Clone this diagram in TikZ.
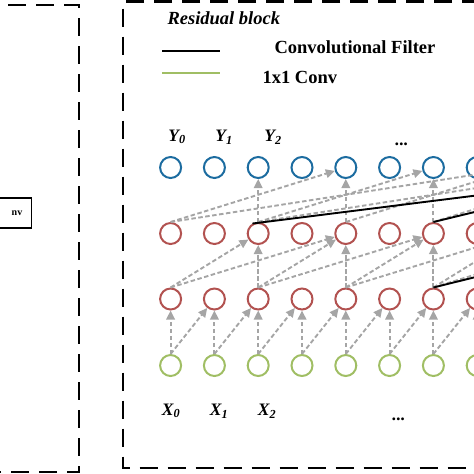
\documentclass[tikz,border=0pt]{standalone}
\usepackage{fontspec}
\setmainfont{Liberation Serif}
\usetikzlibrary{arrows.meta}
\definecolor{outblue}{RGB}{28,108,160}
\definecolor{hidred}{RGB}{178,82,80}
\definecolor{ingreen}{RGB}{160,190,100}
\definecolor{lnkgray}{RGB}{165,165,165}

\begin{document}
\begin{tikzpicture}[x=1pt,y=-1pt,
  every node/.style={font=\bfseries\fontsize{18.5}{20}\selectfont},
  unit/.style={circle,draw,line width=2pt,minimum size=21pt,inner sep=0pt},
  link/.style={draw=lnkgray,line width=1.9pt,dash pattern=on 4.5pt off 2.5pt,
    -{Triangle[length=9pt,width=8.5pt,fill=lnkgray]}},
  filt/.style={line width=1.9pt,black},
  frame/.style={line width=2.2pt,dash pattern=on 18pt off 10pt},
  lbl/.style={font=\bfseries\itshape\fontsize{17.5}{19}\selectfont}]
  \useasboundingbox (0,0) rectangle (474,474);
  \clip (0,0) rectangle (474,474);
  % 左侧框
  \draw[frame] (-20,5) -- (79,5) -- (79,472) -- (-20,472);
  \node[draw,line width=1.4pt,anchor=east,minimum height=30pt,text width=40pt,
    align=right,inner xsep=9pt,font=\bfseries\fontsize{10}{12}\selectfont] (conv) at (32,213) {nv};
  % 右侧框
  \draw[frame] (620,1.5) -- (123,1.5) -- (123,468) -- (620,468);
  % 图例
  \node[anchor=base west,font=\bfseries\itshape\fontsize{18.5}{20}\selectfont] (title) at (164,24) {Residual block};
  \coordinate (keyA1) at (162,51);
  \coordinate (keyA2) at (220,51);
  \draw[filt] (keyA1) -- (keyA2);
  \node[anchor=base west] (keyAtxt) at (271,53) {Convolutional Filter};
  \coordinate (keyB1) at (162,73);
  \coordinate (keyB2) at (220,73);
  \draw[ingreen,line width=1.2pt] (keyB1) -- (keyB2);
  \node[anchor=base west] (keyBtxt) at (259,83) {1x1 Conv};
  % 各层单元
  \foreach \i in {0,...,11}{
    \node[unit,draw=outblue] (out\i) at ({170.6+43.8*\i},167.5) {};
    \node[unit,draw=hidred] (hidA\i) at ({170.6+43.8*\i},233.5) {};
    \node[unit,draw=hidred] (hidB\i) at ({170.6+43.8*\i},299) {};
    \node[unit,draw=ingreen] (in\i) at ({170.6+43.8*\i},365.5) {};
  }
  % 标签
  \node[lbl] (y0) at (177,137) {Y\textsubscript{0}};
  \node[lbl] (y1) at (224,137) {Y\textsubscript{1}};
  \node[lbl] (y2) at (273,137) {Y\textsubscript{2}};
  \node[lbl,anchor=base] (ydots) at (402,145) {...};
  \node[lbl] (x0) at (171,411) {X\textsubscript{0}};
  \node[lbl] (x1) at (219,411) {X\textsubscript{1}};
  \node[lbl] (x2) at (267,411) {X\textsubscript{2}};
  \node[lbl,anchor=base] (xdots) at (399,420) {...};
  % 输入 -> 第一隐层
  \foreach \i in {0,...,11}{
    \draw[link] (in\i.north) -- (hidB\i);
  }
  \foreach \i [count=\j] in {0,...,10}{
    \draw[link] (in\i.north) -- (hidB\j);
  }
  % 第一隐层 -> 第二隐层
  \foreach \i in {2,4,...,10}{
    \pgfmathtruncatemacro\a{\i-2}
    \draw[link] (hidB\i.north) -- (hidA\i);
    \draw[link] (hidB\a.north) -- (hidA\i);
    \ifnum\i>3
      \pgfmathtruncatemacro\b{\i-4}
      \draw[link] (hidB\b.north) -- (hidA\i);
    \fi
  }
  % 第二隐层 -> 输出
  \foreach \i in {2,4,...,10}{
    \draw[link] (hidA\i.north) -- (out\i);
    \ifnum\i>3
      \pgfmathtruncatemacro\a{\i-4}
      \draw[link] (hidA\a.north) -- (out\i);
    \fi
    \ifnum\i>7
      \pgfmathtruncatemacro\b{\i-8}
      \draw[link] (hidA\b.north) -- (out\i);
    \fi
  }
  % 卷积核引线
  \coordinate (tipA) at (520,190);
  \coordinate (tipB) at (520,201);
  \coordinate (tipC) at (520,266);
  \draw[filt] (hidA2.120) -- (tipA);
  \draw[filt] (hidA6.north) -- (tipB);
  \draw[filt] (hidB6.north) -- (tipC);
\end{tikzpicture}
\end{document}
